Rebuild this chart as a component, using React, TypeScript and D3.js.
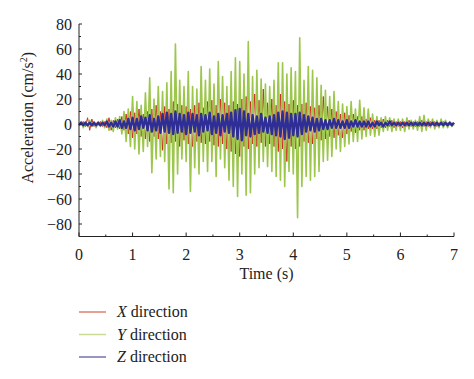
import React from "react";
import * as d3 from "d3";

// Sampling step (s) of the digitised records
const DT = 0.04;

// X direction (red), cm/s^2, one row per second
const xDirection: number[] = [
  1, -1, 2, -2, 5, -5, 4, -2, 1, -1, 2, -2, 2, -3, 5, -5, 3, -3, 4, -4, 6, -5, 8, -8, 10,
  -11, 9, -8, 12, -10, 8, -12, 10, -14, 12, -10, 15, -12, 10, -21, 14, -16, 12, -15, 18, -14, 16, -18, 15, -13,
  14, -16, 12, -18, 15, -14, 17, -15, 13, -16, 18, -14, 19, -17, 15, -18, 20, -16, 17, -20, 15, -22, 18, -24, 16,
  -26, 20, -18, 22, -20, 18, -16, 24, -18, 19, -15, 28, -18, 17, -16, 20, -18, 15, -22, 24, -20, 18, -30, 16, -18,
  19, -20, 15, -18, 16, -14, 17, -15, 14, -16, 13, -12, 15, -13, 22, -12, 14, -10, 12, -11, 10, -9, 8, -11, 9,
  -8, 7, -6, 8, -7, 6, -5, 6, -5, 4, -4, 5, -4, 3, -4, 3, -3, 4, -3, 3, -2, 3, -3, 2, -2,
  2, -3, 2, -2, 3, -2, 2, -2, 2, -2, 3, -2, 2, -2, 2, -1, 2, -2, 1, -1, 2, -1, 1, -1, 1, -1,
];

// Y direction (green)
const yDirection: number[] = [
  -1, 2, -3, 2, -2, 3, -2, 2, -3, 2, -2, 3, -3, 4, -5, 3, -6, 5, -4, 6, -8, 10, -14, 12, -18,
  22, -20, 18, -24, 15, -22, 25, -18, 37, -39, 20, -28, 30, -26, 26, -30, 33, -52, 42, -55, 64, -40, 35, -28, 30,
  -30, 42, -54, 30, -35, 28, -40, 46, -30, 35, -38, 44, -30, 32, -42, 50, -28, 38, -35, 30, -45, 42, -50, 53, -58,
  50, -40, 40, -57, 66, -55, 38, -40, 43, -35, 36, -30, 32, -34, 30, -38, 35, -42, 49, -45, 49, -50, 40, -38, 45,
  -40, 42, -75, 69, -50, 35, -42, 46, -45, 43, -42, 37, -38, 31, -30, 27, -29, 22, -26, 26, -20, 18, -22, 16, -18,
  14, -16, 18, -14, 12, -14, 19, -12, 13, -10, 12, -9, 8, -10, 6, -9, 5, -6, 6, -5, 5, -6, 4, -5, 4,
  -5, 4, -6, 5, -4, 3, -4, 3, -5, 6, -6, 7, -5, 4, -3, 4, -4, 3, -3, 4, -3, 3, -3, 2, -2, 1,
];

// Z direction (blue)
const zDirection: number[] = [
  -1, 1, -1, 1, -1, 1, -1, 1, -1, 1, -1, 1, -1, 2, -2, 1, -2, 2, -2, 3, -3, 2, -3, 4, -4,
  5, -5, 4, -4, 6, -3, 5, -5, 7, -6, 4, -5, 6, -7, 8, -6, 9, -7, 8, -8, 10, -7, 8, -6, 7,
  -8, 9, -7, 8, -6, 7, -9, 8, -6, 7, -5, 9, -8, 6, -7, 8, -9, 7, -6, 8, -7, 9, -10, 11, -12,
  12, -13, 10, -9, 8, -10, 7, -8, 6, -7, 8, -6, 5, -7, 6, -8, 7, -9, 9, -10, 10, -12, 9, -11, 8,
  -9, 8, -10, 9, -8, 7, -6, 6, -5, 5, -6, 4, -5, 4, -4, 3, -4, 3, -3, 4, -3, 3, -3, 2, -3,
  3, -3, 2, -2, 3, -2, 2, -2, 2, -2, 2, -2, 1, -2, 2, -1, 1, -2, 1, -1, 2, -1, 1, -1, 1,
  -1, 1, -1, 1, -1, 1, -1, 1, -1, 1, -1, 1, -1, 1, -1, 1, -1, 1, -1, 1, -1, 1, -1, 1, -1, 1,
];

const xTicks = [0, 1, 2, 3, 4, 5, 6, 7];
const yTicks = [-80, -60, -40, -20, 0, 20, 40, 60, 80];

const series = [
  { name: "X", values: xDirection, color: "#c8321e", legend: "#e0806c", width: 1 },
  { name: "Y", values: yDirection, color: "#9cc64c", legend: "#c9da92", width: 1.6 },
  { name: "Z", values: zDirection, color: "#2f2d96", legend: "#7272aa", width: 2.4 },
];

const W = 474;
const H = 379;
const FONT = "'Liberation Serif', 'Times New Roman', serif";

export default function App() {
  const x = d3.scaleLinear().domain([0, 7]).range([79, 454]);
  const y = d3.scaleLinear().domain([-90, 80]).range([236.5, 24]);

  const line = d3
    .line<number>()
    .x((_, i) => x(i * DT))
    .y((d) => y(d));

  const minorY = d3.range(-90, 81, 10);
  const minorX = d3.range(0, 7.01, 0.5);

  return (
    <svg
      width={W}
      height={H}
      style={{ position: "absolute", left: 0, top: 0, background: "#fff" }}
      fontFamily={FONT}
    >
      <rect width={W} height={H} fill="#fff" />
      {series.map((s) => (
        <path
          key={s.name}
          d={line(s.values) || ""}
          fill="none"
          stroke={s.color}
          strokeWidth={s.width}
          strokeLinejoin="round"
        />
      ))}

      {/* axes */}
      <line x1={79} x2={79} y1={y(80)} y2={y(-90)} stroke="#222" strokeWidth={1} />
      <line x1={79} x2={x(7)} y1={y(-90)} y2={y(-90)} stroke="#222" strokeWidth={1} />
      {minorY.map((v) => {
        const major = v % 20 === 0;
        return (
          <line key={"yt" + v} x1={79} x2={79 + (major ? 3 : 2)} y1={y(v)} y2={y(v)} stroke="#222" />
        );
      })}
      {minorX.map((v) => {
        const major = Number.isInteger(v);
        return (
          <line key={"xt" + v} x1={x(v)} x2={x(v)} y1={y(-90)} y2={y(-90) - (major ? 4 : 2)} stroke="#222" />
        );
      })}
      {yTicks.map((v) => (
        <text key={"yl" + v} x={72} y={y(v) + 5.5} textAnchor="end" fontSize={16} fill="#222">
          {v < 0 ? "\u2212" + Math.abs(v) : String(v)}
        </text>
      ))}
      {xTicks.map((v) => (
        <text key={"xl" + v} x={x(v)} y={260} textAnchor="middle" fontSize={16} fill="#222">
          {v}
        </text>
      ))}
      <text x={266.5} y={279} textAnchor="middle" fontSize={16} fill="#222">
        Time (s)
      </text>
      <text
        transform={`translate(33, ${y(5)}) rotate(-90)`}
        textAnchor="middle"
        fontSize={16}
        fill="#222"
      >
        Acceleration (cm/s<tspan dy={-6} fontSize={10}>2</tspan>
        <tspan dy={6}>)</tspan>
      </text>

      {/* legend */}
      {series.map((s, i) => (
        <g key={"lg" + s.name} transform={`translate(0, ${312 + i * 22.5})`}>
          <line x1={79} x2={106} y1={0} y2={0} stroke={s.legend} strokeWidth={1.5} />
          <text x={117} y={5} fontSize={16} fill="#222">
            <tspan fontStyle="italic">{s.name}</tspan> direction
          </text>
        </g>
      ))}
    </svg>
  );
}
